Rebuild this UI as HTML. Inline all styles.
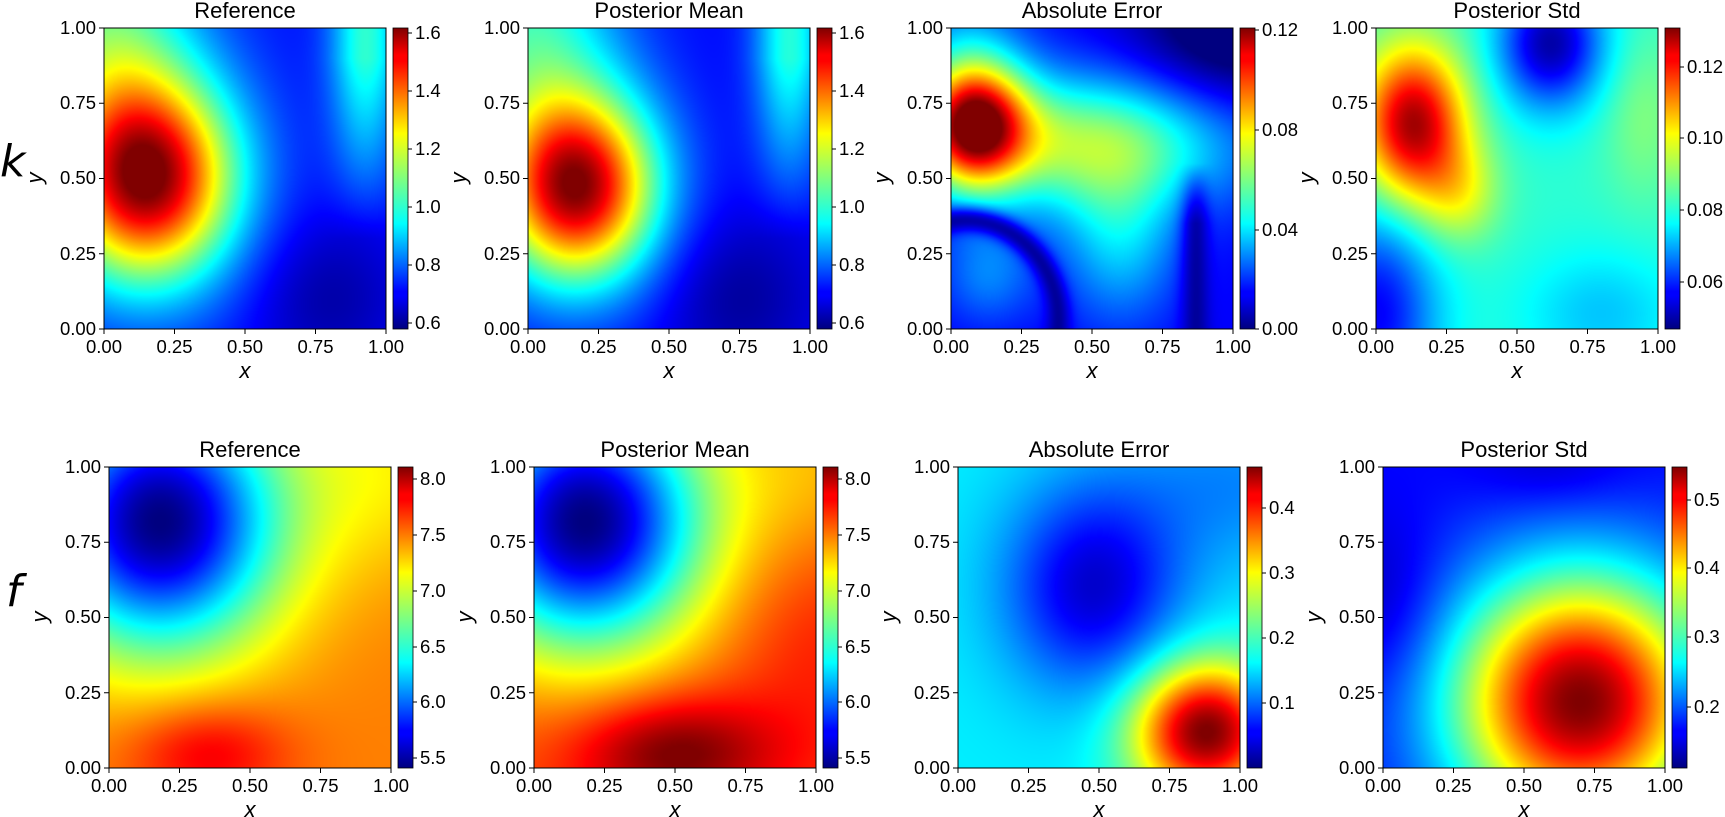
<!DOCTYPE html>
<html><head><meta charset="utf-8"><style>
html,body{margin:0;padding:0;background:#fff;width:1725px;height:817px;overflow:hidden;position:relative}
canvas{position:absolute}
svg{position:absolute;left:0;top:0}
text{font-family:"Liberation Sans","DejaVu Sans",sans-serif;fill:#000}
.t{font-size:18.5px}
.ti{font-size:22px}
.al{font-size:22px;font-style:italic}
</style></head><body>
<canvas id="c0" width="282" height="301" style="left:104px;top:28px"></canvas>
<canvas id="c1" width="282" height="301" style="left:528px;top:28px"></canvas>
<canvas id="c2" width="282" height="301" style="left:951px;top:28px"></canvas>
<canvas id="c3" width="282" height="301" style="left:1376px;top:28px"></canvas>
<canvas id="c4" width="282" height="301" style="left:109px;top:467px"></canvas>
<canvas id="c5" width="282" height="301" style="left:534px;top:467px"></canvas>
<canvas id="c6" width="282" height="301" style="left:958px;top:467px"></canvas>
<canvas id="c7" width="282" height="301" style="left:1383px;top:467px"></canvas>
<svg width="1725" height="817" viewBox="0 0 1725 817">
<defs><linearGradient id="jet" x1="0" y1="1" x2="0" y2="0">
<stop offset="0" stop-color="#00007f"/><stop offset="0.11" stop-color="#0000ff"/><stop offset="0.125" stop-color="#0000ff"/><stop offset="0.35" stop-color="#00ffff"/><stop offset="0.5" stop-color="#7fff7f"/><stop offset="0.65" stop-color="#ffff00"/><stop offset="0.89" stop-color="#ff0000"/><stop offset="0.91" stop-color="#ff0000"/><stop offset="1" stop-color="#7f0000"/></linearGradient>
<g id="ax">
<rect x="0" y="0" width="282" height="301" fill="none" stroke="#000" stroke-width="1"/>
<path d="M-5 0H0M-5 75.25H0M-5 150.5H0M-5 225.75H0M-5 301H0M0 301V306M70.5 301V306M141 301V306M211.5 301V306M282 301V306" stroke="#000"/>
<rect x="289" y="0" width="15" height="301" fill="url(#jet)" stroke="#000" stroke-width="0.8"/>
</g>
</defs>
<text x="0" y="176" style="font-size:44px;font-style:italic;font-family:'DejaVu Sans',sans-serif">k</text>
<text x="6" y="606" style="font-size:44px;font-style:italic;font-family:'DejaVu Sans',sans-serif">f</text>

<g transform="translate(104,28)"><use href="#ax"/>
<text class="ti" x="141" y="-10" text-anchor="middle">Reference</text>
<g class="t" text-anchor="end"><text x="-8" y="6">1.00</text><text x="-8" y="81">0.75</text><text x="-8" y="156">0.50</text><text x="-8" y="232">0.25</text><text x="-8" y="307">0.00</text></g>
<g class="t" text-anchor="middle"><text x="0" y="325">0.00</text><text x="70.5" y="325">0.25</text><text x="141" y="325">0.50</text><text x="211.5" y="325">0.75</text><text x="282" y="325">1.00</text></g>
<text class="al" x="141" y="350" text-anchor="middle">x</text>
<text class="al" transform="translate(-62,150) rotate(-90)" text-anchor="middle">y</text>
<path d="M304 5h4M304 63h4M304 121h4M304 179h4M304 237h4M304 295h4" stroke="#000"/>
<g class="t"><text x="311" y="11">1.6</text><text x="311" y="69">1.4</text><text x="311" y="127">1.2</text><text x="311" y="185">1.0</text><text x="311" y="243">0.8</text><text x="311" y="301">0.6</text></g>
</g>

<g transform="translate(528,28)"><use href="#ax"/>
<text class="ti" x="141" y="-10" text-anchor="middle">Posterior Mean</text>
<g class="t" text-anchor="end"><text x="-8" y="6">1.00</text><text x="-8" y="81">0.75</text><text x="-8" y="156">0.50</text><text x="-8" y="232">0.25</text><text x="-8" y="307">0.00</text></g>
<g class="t" text-anchor="middle"><text x="0" y="325">0.00</text><text x="70.5" y="325">0.25</text><text x="141" y="325">0.50</text><text x="211.5" y="325">0.75</text><text x="282" y="325">1.00</text></g>
<text class="al" x="141" y="350" text-anchor="middle">x</text>
<text class="al" transform="translate(-62,150) rotate(-90)" text-anchor="middle">y</text>
<path d="M304 5h4M304 63h4M304 121h4M304 179h4M304 237h4M304 295h4" stroke="#000"/>
<g class="t"><text x="311" y="11">1.6</text><text x="311" y="69">1.4</text><text x="311" y="127">1.2</text><text x="311" y="185">1.0</text><text x="311" y="243">0.8</text><text x="311" y="301">0.6</text></g>
</g>

<g transform="translate(951,28)"><use href="#ax"/>
<text class="ti" x="141" y="-10" text-anchor="middle">Absolute Error</text>
<g class="t" text-anchor="end"><text x="-8" y="6">1.00</text><text x="-8" y="81">0.75</text><text x="-8" y="156">0.50</text><text x="-8" y="232">0.25</text><text x="-8" y="307">0.00</text></g>
<g class="t" text-anchor="middle"><text x="0" y="325">0.00</text><text x="70.5" y="325">0.25</text><text x="141" y="325">0.50</text><text x="211.5" y="325">0.75</text><text x="282" y="325">1.00</text></g>
<text class="al" x="141" y="350" text-anchor="middle">x</text>
<text class="al" transform="translate(-62,150) rotate(-90)" text-anchor="middle">y</text>
<path d="M304 2h4M304 102h4M304 202h4M304 301h4" stroke="#000"/>
<g class="t"><text x="311" y="8">0.12</text><text x="311" y="108">0.08</text><text x="311" y="208">0.04</text><text x="311" y="307">0.00</text></g>
</g>

<g transform="translate(1376,28)"><use href="#ax"/>
<text class="ti" x="141" y="-10" text-anchor="middle">Posterior Std</text>
<g class="t" text-anchor="end"><text x="-8" y="6">1.00</text><text x="-8" y="81">0.75</text><text x="-8" y="156">0.50</text><text x="-8" y="232">0.25</text><text x="-8" y="307">0.00</text></g>
<g class="t" text-anchor="middle"><text x="0" y="325">0.00</text><text x="70.5" y="325">0.25</text><text x="141" y="325">0.50</text><text x="211.5" y="325">0.75</text><text x="282" y="325">1.00</text></g>
<text class="al" x="141" y="350" text-anchor="middle">x</text>
<text class="al" transform="translate(-62,150) rotate(-90)" text-anchor="middle">y</text>
<path d="M304 39h4M304 110h4M304 182h4M304 254h4" stroke="#000"/>
<g class="t"><text x="311" y="45">0.12</text><text x="311" y="116">0.10</text><text x="311" y="188">0.08</text><text x="311" y="260">0.06</text></g>
</g>

<g transform="translate(109,467)"><use href="#ax"/>
<text class="ti" x="141" y="-10" text-anchor="middle">Reference</text>
<g class="t" text-anchor="end"><text x="-8" y="6">1.00</text><text x="-8" y="81">0.75</text><text x="-8" y="156">0.50</text><text x="-8" y="232">0.25</text><text x="-8" y="307">0.00</text></g>
<g class="t" text-anchor="middle"><text x="0" y="325">0.00</text><text x="70.5" y="325">0.25</text><text x="141" y="325">0.50</text><text x="211.5" y="325">0.75</text><text x="282" y="325">1.00</text></g>
<text class="al" x="141" y="350" text-anchor="middle">x</text>
<text class="al" transform="translate(-62,150) rotate(-90)" text-anchor="middle">y</text>
<path d="M304 12h4M304 68h4M304 124h4M304 180h4M304 235h4M304 291h4" stroke="#000"/>
<g class="t"><text x="311" y="18">8.0</text><text x="311" y="74">7.5</text><text x="311" y="130">7.0</text><text x="311" y="186">6.5</text><text x="311" y="241">6.0</text><text x="311" y="297">5.5</text></g>
</g>

<g transform="translate(534,467)"><use href="#ax"/>
<text class="ti" x="141" y="-10" text-anchor="middle">Posterior Mean</text>
<g class="t" text-anchor="end"><text x="-8" y="6">1.00</text><text x="-8" y="81">0.75</text><text x="-8" y="156">0.50</text><text x="-8" y="232">0.25</text><text x="-8" y="307">0.00</text></g>
<g class="t" text-anchor="middle"><text x="0" y="325">0.00</text><text x="70.5" y="325">0.25</text><text x="141" y="325">0.50</text><text x="211.5" y="325">0.75</text><text x="282" y="325">1.00</text></g>
<text class="al" x="141" y="350" text-anchor="middle">x</text>
<text class="al" transform="translate(-62,150) rotate(-90)" text-anchor="middle">y</text>
<path d="M304 12h4M304 68h4M304 124h4M304 180h4M304 235h4M304 291h4" stroke="#000"/>
<g class="t"><text x="311" y="18">8.0</text><text x="311" y="74">7.5</text><text x="311" y="130">7.0</text><text x="311" y="186">6.5</text><text x="311" y="241">6.0</text><text x="311" y="297">5.5</text></g>
</g>

<g transform="translate(958,467)"><use href="#ax"/>
<text class="ti" x="141" y="-10" text-anchor="middle">Absolute Error</text>
<g class="t" text-anchor="end"><text x="-8" y="6">1.00</text><text x="-8" y="81">0.75</text><text x="-8" y="156">0.50</text><text x="-8" y="232">0.25</text><text x="-8" y="307">0.00</text></g>
<g class="t" text-anchor="middle"><text x="0" y="325">0.00</text><text x="70.5" y="325">0.25</text><text x="141" y="325">0.50</text><text x="211.5" y="325">0.75</text><text x="282" y="325">1.00</text></g>
<text class="al" x="141" y="350" text-anchor="middle">x</text>
<text class="al" transform="translate(-62,150) rotate(-90)" text-anchor="middle">y</text>
<path d="M304 41h4M304 106h4M304 171h4M304 236h4" stroke="#000"/>
<g class="t"><text x="311" y="47">0.4</text><text x="311" y="112">0.3</text><text x="311" y="177">0.2</text><text x="311" y="242">0.1</text></g>
</g>

<g transform="translate(1383,467)"><use href="#ax"/>
<text class="ti" x="141" y="-10" text-anchor="middle">Posterior Std</text>
<g class="t" text-anchor="end"><text x="-8" y="6">1.00</text><text x="-8" y="81">0.75</text><text x="-8" y="156">0.50</text><text x="-8" y="232">0.25</text><text x="-8" y="307">0.00</text></g>
<g class="t" text-anchor="middle"><text x="0" y="325">0.00</text><text x="70.5" y="325">0.25</text><text x="141" y="325">0.50</text><text x="211.5" y="325">0.75</text><text x="282" y="325">1.00</text></g>
<text class="al" x="141" y="350" text-anchor="middle">x</text>
<text class="al" transform="translate(-62,150) rotate(-90)" text-anchor="middle">y</text>
<path d="M304 33h4M304 101h4M304 170h4M304 240h4" stroke="#000"/>
<g class="t"><text x="311" y="39">0.5</text><text x="311" y="107">0.4</text><text x="311" y="176">0.3</text><text x="311" y="246">0.2</text></g>
</g>
</svg>
<script>
function G(u,v,cx,cy,sx,sy){var a=(u-cx)/sx,b=(v-cy)/sy;return Math.exp(-0.5*(a*a+b*b));}
function cl(x){return x<0?0:x>1?1:x;}
function jet(t){t=cl(t);return [cl(1.5-Math.abs(4*t-3)),cl(1.5-Math.abs(4*t-2)),cl(1.5-Math.abs(4*t-1))];}
var F=[
function(u,v){return 0.14+0.86*G(u,v,.15,.5,.22,.24)+0.28*G(u,v,0,1,.22,.28)+0.28*Math.exp(-Math.pow((u-.93)/.09,2)/2)*cl((v-.3)/.6)-0.1*G(u,v,.8,.1,.2,.2);},
function(u,v){return 0.13+0.85*G(u,v,.17,.47,.2,.22)+0.28*G(u,v,0,1,.22,.28)+0.28*Math.exp(-Math.pow((u-.93)/.09,2)/2)*cl((v-.3)/.6)-0.1*G(u,v,.75,.1,.2,.2);},
function(u,v){var t=0.12+0.75*G(u,v,.08,.68,.13,.14)+0.4*G(u,v,.45,.62,.4,.16)+0.2*G(u,v,.6,.3,.15,.2)+0.13*G(u,v,.13,.18,.12,.12)+0.12*G(u,v,.05,.95,.15,.15)-0.2*G(u,v,1,1,.25,.2);
var r=Math.sqrt((u-.05)*(u-.05)+(v-.03)*(v-.03));t*=1-0.85*Math.exp(-Math.pow((r-.33)/.03,2)/2);
t*=1-0.8*Math.exp(-Math.pow((u-.87)/.035,2)/2)*cl((0.55-v)/0.2);return t;},
function(u,v){return 0.42+0.55*G(u,v,.13,.68,.13,.18)+0.15*G(u,v,.3,.45,.1,.12)-0.38*G(u,v,.62,.95,.13,.15)-0.3*G(u,v,0,.05,.15,.25)+0.08*G(u,v,.95,.7,.1,.2)-0.1*G(u,v,.8,.05,.2,.15);},
function(u,v){return 0.75*(1-G(u,v,.18,.82,.3,.3))+0.15*G(u,v,.35,.05,.2,.12)-0.1*G(u,v,1,1,.25,.25);},
function(u,v){return 0.8*(1-G(u,v,.18,.82,.3,.3))+0.22*G(u,v,.5,.05,.25,.13)+0.05*G(u,v,1,.4,.2,.3)-0.1*G(u,v,1,1,.25,.25);},
function(u,v){return 0.36-0.28*G(u,v,.48,.6,.22,.24)+0.65*G(u,v,.88,.12,.18,.16)-0.1*G(u,v,1,.95,.3,.2);},
function(u,v){return 0.13+0.87*G(u,v,.7,.22,.32,.3)-0.08*G(u,v,0,.55,.15,.2)-0.06*G(u,v,.6,1,.2,.1);}
];
for(var k=0;k<8;k++){var c=document.getElementById('c'+k),x=c.getContext('2d'),W=c.width,H=c.height,im=x.createImageData(W,H),d=im.data;
for(var j=0;j<H;j++)for(var i=0;i<W;i++){var col=jet(F[k](i/(W-1),1-j/(H-1))),p=(j*W+i)*4;d[p]=col[0]*255;d[p+1]=col[1]*255;d[p+2]=col[2]*255;d[p+3]=255;}
x.putImageData(im,0,0);}
</script>
</body></html>
